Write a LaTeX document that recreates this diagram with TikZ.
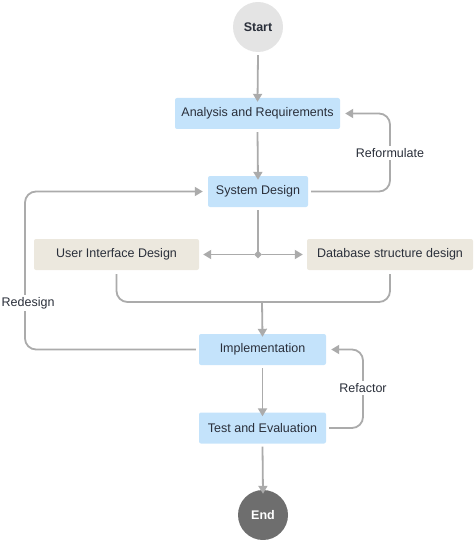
\documentclass[tikz,border=0pt]{standalone}
\usepackage{fontspec}
\setmainfont{Liberation Sans}
\usetikzlibrary{arrows.meta,shapes.geometric,positioning}

\definecolor{boxblue}{HTML}{C4E3FB}
\definecolor{boxsand}{HTML}{ECE8DE}
\definecolor{startgray}{HTML}{E4E4E4}
\definecolor{endgray}{HTML}{6E6E6E}
\definecolor{linegray}{HTML}{ABABAB}
\definecolor{textdark}{HTML}{2A2F3A}

\tikzset{
  procbox/.style={rectangle,rounded corners=2pt,fill=boxblue,text=textdark,
    minimum height=31pt,inner xsep=6pt,font=\fontsize{12.5}{14}\selectfont},
  designbox/.style={procbox,fill=boxsand},
  terminal/.style={circle,minimum size=50pt,inner sep=0pt,
    font=\bfseries\fontsize{12.5}{14}\selectfont},
  flow/.style={draw=linegray,line width=1.8pt,rounded corners=11pt,
    -{Triangle[length=8pt,width=9pt]}},
  plain/.style={draw=linegray,line width=1.8pt,rounded corners=11pt},
  looplabel/.style={fill=white,text=textdark,inner sep=2pt,
    font=\fontsize{12.5}{14}\selectfont}
}

\begin{document}
\begin{tikzpicture}[x=1pt,y=-1pt]
\useasboundingbox (0,0) rectangle (474,540);

% main column
\node [terminal,fill=startgray,text=textdark] (start) at (258,27) {Start};
\node [procbox,minimum width=165pt] (analysis) at (257.5,113.5) {Analysis and Requirements};
\node [procbox,minimum width=100pt] (sysdes) at (258,191.5) {System Design};
\node [designbox,minimum width=165pt] (uides) at (116.5,254.5) {User Interface Design};
\node [designbox,minimum width=166pt] (dbdes) at (390,254.5) {Database structure design};
\node [procbox,minimum width=127pt] (impl) at (262.5,349.5) {Implementation};
\node [procbox,minimum width=127pt] (test) at (262.5,428) {Test and Evaluation};
\node [terminal,fill=endgray,text=white] (end) at (263,515) {End};

% junction
\node [diamond,fill=linegray,inner sep=0pt,minimum size=8pt] (fork) at (258,254.5) {};
\coordinate (merge) at (262,302);

\draw [flow] (start.south) ++(0,3) -- ([yshift=-4pt]analysis.north);
\draw [flow] (analysis.south) ++(0,3) -- ([yshift=-4pt]sysdes.north);
\draw [plain] (sysdes.south) ++(0,3) -- (fork.center);
\draw [flow] (fork) -- ([xshift=4pt]uides.east);
\draw [flow] (fork) -- ([xshift=-4pt]dbdes.east -| dbdes.west);

\draw [plain] (uides.south) ++(0,4) |- (merge);
\draw [plain] (dbdes.south) ++(0,4) |- (merge);
\draw [flow] (merge) -- ([yshift=-3pt]impl.north);

\draw [flow] (impl.south) ++(0,3) -- ([yshift=-4pt]test.north);
\draw [flow] (test.south) ++(0,3) -- ([yshift=-4pt]end.north);

% feedback loops
\draw [flow] ([xshift=3pt]sysdes.east) -- (390,191.5) -- (390,113.5) -- ([xshift=5pt]analysis.east);
\node [looplabel] (reform) at (390,153) {Reformulate};

\draw [flow] ([xshift=-3pt]impl.west) -- (25,349.5) -- (25,191.5) -- ([xshift=-5pt]sysdes.west);
\node [looplabel,anchor=west,inner xsep=1pt] (redes) at (0.5,303) {Redesign};

\draw [flow] ([xshift=3pt]test.east) -- (363,428) -- (363,349.5) -- ([xshift=5pt]impl.east);
\node [looplabel] (refac) at (363,388) {Refactor};

\end{tikzpicture}
\end{document}
